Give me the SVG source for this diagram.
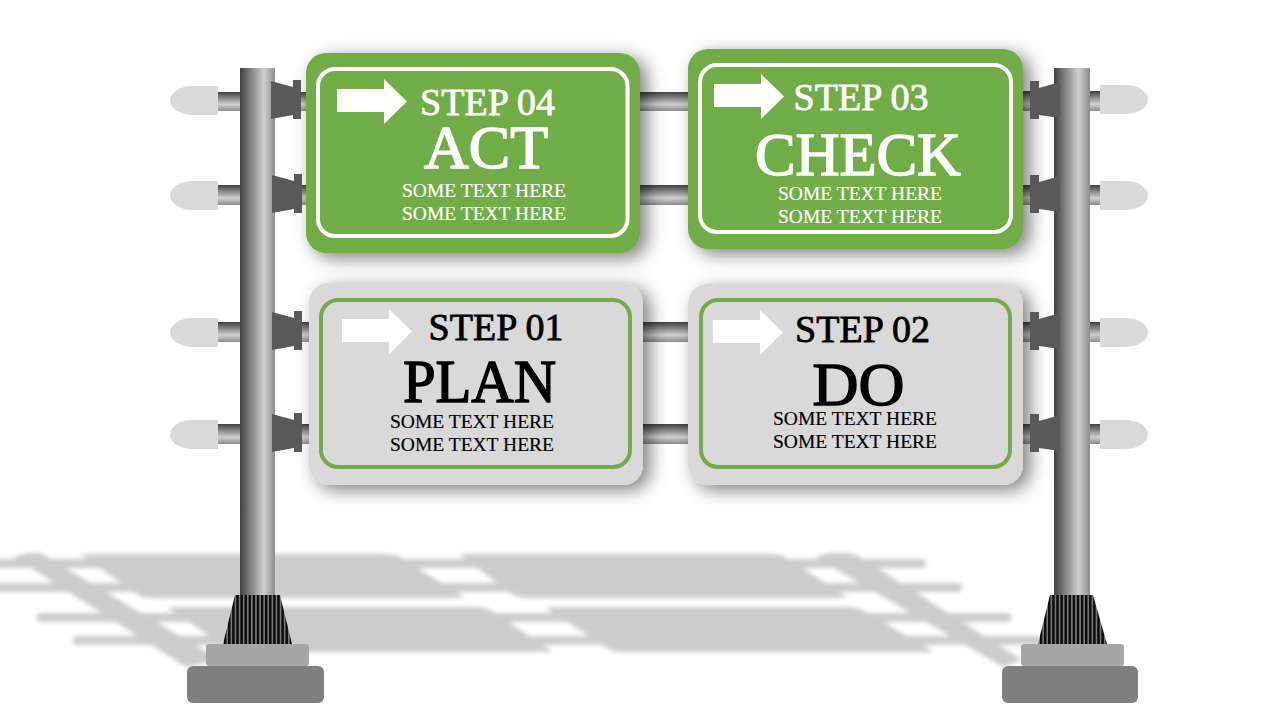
<svg xmlns="http://www.w3.org/2000/svg" xmlns:xlink="http://www.w3.org/1999/xlink" width="1280" height="720" viewBox="0 0 1280 720">
<style>
.t{font-family:"Liberation Serif","Times New Roman",serif;text-anchor:middle}
.w{fill:#fff;stroke:#fff}.k{fill:#000;stroke:#000}
.st{font-size:38px;stroke-width:.8px}.big{font-size:62px;stroke-width:1.500px}.sm{font-size:19.500px;stroke-width:.2px}
.bar{fill:url(#gBar)}.lamp{fill:#D9D9D9}.br{fill:#595959}.pole{fill:url(#gPole)}
.shd{fill:#CCCCCC}
</style>
<defs>
<linearGradient id="gPole" x1="0" x2="1" y1="0" y2="0">
<stop offset="0" stop-color="#404040"/><stop offset=".68" stop-color="#D0D0D0"/><stop offset="1" stop-color="#8C8C8C"/>
</linearGradient>
<linearGradient id="gBar" x1="0" x2="0" y1="0" y2="1">
<stop offset="0" stop-color="#404040"/><stop offset=".65" stop-color="#D0D0D0"/><stop offset="1" stop-color="#8C8C8C"/>
</linearGradient>
<pattern id="stripes" width="4.1" height="10" patternUnits="userSpaceOnUse" x="224">
<rect width="4.1" height="10" fill="#777"/><rect width="2.400" height="10" fill="#0A0A0A"/>
</pattern>
<filter id="ds" x="-15%" y="-20%" width="135%" height="145%"><feDropShadow dx="7" dy="5" stdDeviation="9" flood-color="#000" flood-opacity=".5"/></filter>
<filter id="bl" x="-5%" y="-5%" width="110%" height="110%"><feGaussianBlur stdDeviation="2.300"/></filter>
<path id="arrow" d="M0 10H47V0L70 22.500L47 45V33H0Z" fill="#fff"/>
<g id="bracketL"><path class="br" d="M0 -20L22 -14V14L0 18Z"/><rect class="br" x="22" y="-21" width="8" height="39"/></g>
<g id="bracketR"><path class="br" d="M30 -19L9 -13V14L30 17Z"/><rect class="br" x="0" y="-20" width="9" height="38"/></g>
</defs>
<rect width="1280" height="720" fill="#fff"/>
<g id="ground-shadow" filter="url(#bl)" class="shd">
<path d="M80 554H385Q395 554 402 558L465 598H150Q143 598 137 594Z"/>
<path d="M459 554H770Q780 554 787 558L848 598H525Q518 598 512 594Z"/>
<path d="M167 607H475Q485 607 492 611L553 652H240Q233 652 227 648Z"/>
<path d="M545 607H847Q857 607 864 611L934 652H620Q613 652 607 648Z"/>
<path d="M14 557L28 553H40L47 557L220 660L186 667Z"/>
<path d="M815 557L830 553H850L860 557L1022 660L1003 667Z"/>
<rect x="-5" y="559" width="931" height="9" rx="4"/>
<rect x="-5" y="583" width="967" height="9" rx="4"/>
<rect x="37" y="613" width="974" height="9" rx="4"/>
<rect x="73" y="636" width="967" height="9" rx="4"/>
</g>
<g id="rails">
<rect class="bar" x="217" y="92" width="475" height="19"/>
<rect class="bar" x="217" y="185" width="475" height="20"/>
<rect class="bar" x="217" y="322" width="475" height="20"/>
<rect class="bar" x="217" y="424" width="475" height="20"/>
<rect class="bar" x="1020" y="91" width="80" height="20"/>
<rect class="bar" x="1020" y="185" width="80" height="20"/>
<rect class="bar" x="1020" y="322" width="80" height="20"/>
<rect class="bar" x="1020" y="424" width="80" height="20"/>
</g>
<g id="lamps">
<path class="lamp" d="M218 86H193A23 14.500 0 0 0 193 115H218Z"/>
<path class="lamp" d="M218 181H193A23 14.500 0 0 0 193 210H218Z"/>
<path class="lamp" d="M218 318H193A23 14.500 0 0 0 193 347H218Z"/>
<path class="lamp" d="M218 420H193A23 14.500 0 0 0 193 449H218Z"/>
<path class="lamp" d="M1100 85H1125A23 14.500 0 0 1 1125 114H1100Z"/>
<path class="lamp" d="M1100 181H1125A23 14.500 0 0 1 1125 210H1100Z"/>
<path class="lamp" d="M1100 318H1125A23 14.500 0 0 1 1125 347H1100Z"/>
<path class="lamp" d="M1100 420H1125A23 14.500 0 0 1 1125 449H1100Z"/>
</g>
<g id="sign-act">
<rect x="306" y="53" width="334" height="200" rx="20" fill="#70AD47" filter="url(#ds)"/>
<rect x="318" y="69" width="309.500" height="167" rx="17" fill="none" stroke="#fff" stroke-width="4"/>
<use xlink:href="#arrow" href="#arrow" x="337" y="79"/>
<text class="t w st" x="487.500" y="115">STEP 04</text>
<text class="t w big" x="486" y="168" textLength="124" lengthAdjust="spacingAndGlyphs">ACT</text>
<text class="t w sm" x="484" y="197">SOME TEXT HERE</text>
<text class="t w sm" x="484" y="220">SOME TEXT HERE</text>
</g>
<g id="sign-check">
<rect x="688" y="49" width="335" height="200" rx="20" fill="#70AD47" filter="url(#ds)"/>
<rect x="700" y="65" width="311" height="167" rx="17" fill="none" stroke="#fff" stroke-width="4"/>
<use xlink:href="#arrow" href="#arrow" x="714" y="74"/>
<text class="t w st" x="861" y="110">STEP 03</text>
<text class="t w big" x="858" y="175" textLength="206" lengthAdjust="spacingAndGlyphs">CHECK</text>
<text class="t w sm" x="860" y="200">SOME TEXT HERE</text>
<text class="t w sm" x="860" y="223">SOME TEXT HERE</text>
</g>
<g id="sign-plan">
<rect x="309" y="283" width="334" height="202" rx="20" fill="#D9D9D9" filter="url(#ds)"/>
<rect x="321" y="300" width="309" height="167" rx="17" fill="none" stroke="#70AD47" stroke-width="4"/>
<use xlink:href="#arrow" href="#arrow" x="342" y="309"/>
<text class="t k st" x="496" y="340">STEP 01</text>
<text class="t k big" x="479.500" y="402" textLength="153" lengthAdjust="spacingAndGlyphs">PLAN</text>
<text class="t k sm" x="472" y="428">SOME TEXT HERE</text>
<text class="t k sm" x="472" y="451">SOME TEXT HERE</text>
</g>
<g id="sign-do">
<rect x="688" y="284" width="335" height="201" rx="20" fill="#D9D9D9" filter="url(#ds)"/>
<rect x="701" y="300" width="309" height="167" rx="17" fill="none" stroke="#70AD47" stroke-width="4"/>
<use xlink:href="#arrow" href="#arrow" x="713" y="310"/>
<text class="t k st" x="862.500" y="342">STEP 02</text>
<text class="t k big" x="858.500" y="405" textLength="92" lengthAdjust="spacingAndGlyphs">DO</text>
<text class="t k sm" x="855" y="425">SOME TEXT HERE</text>
<text class="t k sm" x="855" y="448">SOME TEXT HERE</text>
</g>
<g id="post-left">
<rect class="pole" x="240" y="68" width="35" height="528"/>
<path d="M235 595H280L292 644H223Z" fill="url(#stripes)"/>
<rect x="206" y="644" width="103" height="22" rx="3" fill="#A6A6A6"/>
<rect x="187" y="666" width="137" height="37" rx="6" fill="#7F7F7F"/>
</g>
<g id="post-right">
<rect class="pole" x="1054" y="68" width="36" height="528"/>
<path d="M1050 595H1093L1107 644H1038Z" fill="url(#stripes)"/>
<rect x="1021" y="644" width="103" height="22" rx="3" fill="#A6A6A6"/>
<rect x="1002" y="666" width="136" height="37" rx="6" fill="#7F7F7F"/>
</g>
<g id="brackets">
<use xlink:href="#bracketL" href="#bracketL" x="271" y="101"/>
<use xlink:href="#bracketL" href="#bracketL" x="272" y="195"/>
<use xlink:href="#bracketL" href="#bracketL" x="272" y="332"/>
<use xlink:href="#bracketL" href="#bracketL" x="272" y="434"/>
<use xlink:href="#bracketR" href="#bracketR" x="1030" y="101"/>
<use xlink:href="#bracketR" href="#bracketR" x="1030" y="195"/>
<use xlink:href="#bracketR" href="#bracketR" x="1030" y="332"/>
<use xlink:href="#bracketR" href="#bracketR" x="1030" y="434"/>
</g>
</svg>
